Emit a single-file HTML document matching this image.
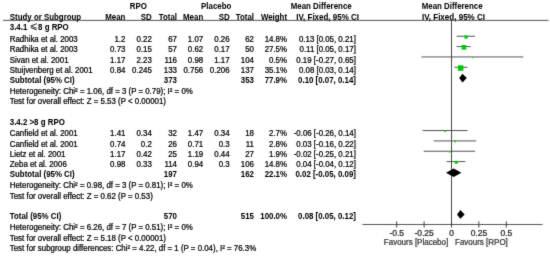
<!DOCTYPE html>
<html><head><meta charset="utf-8"><title>Forest plot</title>
<style>
html,body{margin:0;padding:0;background:#fff;}
svg{display:block}
text{font-family:"Liberation Sans",sans-serif;font-size:7.9px;stroke:#000;stroke-width:0.24px;}
text.b{font-weight:bold;stroke-width:0.04px;}
</style></head><body>
<svg width="550" height="256" viewBox="0 0 550 256">
<defs><filter id="soft" x="0" y="0" width="550" height="256" filterUnits="userSpaceOnUse"><feConvolveMatrix order="3" kernelMatrix="0.015 0.075 0.015 0.075 0.64 0.075 0.015 0.075 0.015" edgeMode="duplicate" preserveAlpha="false"/></filter></defs>
<rect width="550" height="256" fill="#fff"/>
<g filter="url(#soft)">
<line x1="451.5" y1="20.4" x2="451.5" y2="224.5" stroke="#333" stroke-width="0.9"/>
<line x1="456.6" y1="36.25" x2="475.1" y2="36.25" stroke="#404040" stroke-width="0.9"/>
<rect x="464.5" y="35.4" width="3.2" height="3.2" fill="#00c800"/>
<line x1="456.6" y1="46.6" x2="470.7" y2="46.6" stroke="#404040" stroke-width="0.9"/>
<rect x="461.6" y="45.0" width="4.7" height="4.7" fill="#00c800"/>
<line x1="421.5" y1="56.949999999999996" x2="523.3" y2="56.949999999999996" stroke="#404040" stroke-width="0.9"/>
<rect x="472.1" y="57.0" width="1.2" height="1.2" fill="#00c800"/>
<line x1="454.4" y1="67.30000000000001" x2="467.4" y2="67.30000000000001" stroke="#404040" stroke-width="0.9"/>
<rect x="457.9" y="65.3" width="5.5" height="5.5" fill="#00c800"/>
<polygon points="459.2,78.1 462.5,73.8 466.8,78.1 462.5,82.39999999999999" fill="#000"/>
<line x1="422.6" y1="130.55" x2="467.4" y2="130.55" stroke="#404040" stroke-width="0.9"/>
<rect x="444.5" y="130.4" width="1.6" height="1.6" fill="#00c800"/>
<line x1="433.6" y1="140.9" x2="476.2" y2="140.9" stroke="#404040" stroke-width="0.9"/>
<rect x="454.4" y="140.8" width="1.6" height="1.6" fill="#00c800"/>
<line x1="423.7" y1="151.25" x2="475.1" y2="151.25" stroke="#404040" stroke-width="0.9"/>
<rect x="449.0" y="151.2" width="1.4" height="1.4" fill="#00c800"/>
<line x1="446.7" y1="161.6" x2="465.3" y2="161.6" stroke="#404040" stroke-width="0.9"/>
<rect x="454.8" y="160.8" width="2.9" height="2.9" fill="#00c800"/>
<polygon points="446.0,172.8 453.7,168.5 461.4,172.8 453.7,177.10000000000002" fill="#000"/>
<polygon points="457.0,214.4 460.3,210.1 464.7,214.4 460.3,218.70000000000002" fill="#000"/>
<line x1="362.5" y1="224.5" x2="542.5" y2="224.5" stroke="#3a3a3a" stroke-width="0.85"/>
<line x1="396.7" y1="221.3" x2="396.7" y2="227.6" stroke="#333" stroke-width="0.9"/>
<line x1="424.1" y1="221.3" x2="424.1" y2="227.6" stroke="#333" stroke-width="0.9"/>
<line x1="451.5" y1="221.3" x2="451.5" y2="227.6" stroke="#333" stroke-width="0.9"/>
<line x1="478.9" y1="221.3" x2="478.9" y2="227.6" stroke="#333" stroke-width="0.9"/>
<line x1="506.3" y1="221.3" x2="506.3" y2="227.6" stroke="#333" stroke-width="0.9"/>
<text transform="translate(138.4 9.1) scale(1 1.03)" text-anchor="middle" class="b">RPO</text>
<text transform="translate(216.2 9.1) scale(1 1.03)" text-anchor="middle" class="b">Placebo</text>
<text transform="translate(321.2 9.1) scale(1 1.03)" text-anchor="middle" class="b">Mean Difference</text>
<text transform="translate(421.7 9.1) scale(1 1.03)" class="b">Mean Difference</text>
<text transform="translate(9.8 19.7) scale(1 1.03)" class="b">Study or Subgroup</text>
<text transform="translate(125.4 19.7) scale(1 1.03)" text-anchor="end" class="b">Mean</text>
<text transform="translate(151.8 19.7) scale(1 1.03)" text-anchor="end" class="b">SD</text>
<text transform="translate(177 19.7) scale(1 1.03)" text-anchor="end" class="b">Total</text>
<text transform="translate(203.2 19.7) scale(1 1.03)" text-anchor="end" class="b">Mean</text>
<text transform="translate(229.6 19.7) scale(1 1.03)" text-anchor="end" class="b">SD</text>
<text transform="translate(254 19.7) scale(1 1.03)" text-anchor="end" class="b">Total</text>
<text transform="translate(287 19.7) scale(1 1.03)" text-anchor="end" class="b">Weight</text>
<text transform="translate(359 19.7) scale(1 1.03)" text-anchor="end" class="b" style="font-size:8.0px;">IV, Fixed, 95% CI</text>
<text transform="translate(421.9 19.7) scale(1 1.03)" class="b" style="font-size:8.05px;">IV, Fixed, 95% CI</text>
<line x1="3" y1="20.4" x2="548.5" y2="20.4" stroke="#222" stroke-width="0.75"/>
<text transform="translate(9.8 29.5) scale(1 1.03)" class="b">3.4.1 <tspan font-family="DejaVu Sans, sans-serif" font-weight="normal" font-size="9.4" dx="0.3" dy="-0.5">⩽</tspan><tspan dy="0.5" dx="0.4">8 g RPO</tspan></text>
<text transform="translate(9.8 42.1) scale(1 1.03)">Radhika et al. 2003</text>
<text transform="translate(125.4 42.1) scale(1 1.03)" text-anchor="end">1.2</text>
<text transform="translate(151.8 42.1) scale(1 1.03)" text-anchor="end">0.22</text>
<text transform="translate(177 42.1) scale(1 1.03)" text-anchor="end">67</text>
<text transform="translate(203.2 42.1) scale(1 1.03)" text-anchor="end">1.07</text>
<text transform="translate(229.6 42.1) scale(1 1.03)" text-anchor="end">0.26</text>
<text transform="translate(254 42.1) scale(1 1.03)" text-anchor="end">62</text>
<text transform="translate(287 42.1) scale(1 1.03)" text-anchor="end">14.8%</text>
<text transform="translate(355.9 42.1) scale(1 1.03)" text-anchor="end">0.13 [0.05, 0.21]</text>
<text transform="translate(9.8 52.45) scale(1 1.03)">Radhika et al. 2003</text>
<text transform="translate(125.4 52.45) scale(1 1.03)" text-anchor="end">0.73</text>
<text transform="translate(151.8 52.45) scale(1 1.03)" text-anchor="end">0.15</text>
<text transform="translate(177 52.45) scale(1 1.03)" text-anchor="end">57</text>
<text transform="translate(203.2 52.45) scale(1 1.03)" text-anchor="end">0.62</text>
<text transform="translate(229.6 52.45) scale(1 1.03)" text-anchor="end">0.17</text>
<text transform="translate(254 52.45) scale(1 1.03)" text-anchor="end">50</text>
<text transform="translate(287 52.45) scale(1 1.03)" text-anchor="end">27.5%</text>
<text transform="translate(355.9 52.45) scale(1 1.03)" text-anchor="end">0.11 [0.05, 0.17]</text>
<text transform="translate(9.8 62.8) scale(1 1.03)">Sivan et al. 2001</text>
<text transform="translate(125.4 62.8) scale(1 1.03)" text-anchor="end">1.17</text>
<text transform="translate(151.8 62.8) scale(1 1.03)" text-anchor="end">2.23</text>
<text transform="translate(177 62.8) scale(1 1.03)" text-anchor="end">116</text>
<text transform="translate(203.2 62.8) scale(1 1.03)" text-anchor="end">0.98</text>
<text transform="translate(229.6 62.8) scale(1 1.03)" text-anchor="end">1.17</text>
<text transform="translate(254 62.8) scale(1 1.03)" text-anchor="end">104</text>
<text transform="translate(287 62.8) scale(1 1.03)" text-anchor="end">0.5%</text>
<text transform="translate(355.9 62.8) scale(1 1.03)" text-anchor="end">0.19 [-0.27, 0.65]</text>
<text transform="translate(9.8 73.15) scale(1 1.03)">Stuijvenberg et al. 2001</text>
<text transform="translate(125.4 73.15) scale(1 1.03)" text-anchor="end">0.84</text>
<text transform="translate(151.8 73.15) scale(1 1.03)" text-anchor="end">0.245</text>
<text transform="translate(177 73.15) scale(1 1.03)" text-anchor="end">133</text>
<text transform="translate(203.2 73.15) scale(1 1.03)" text-anchor="end">0.756</text>
<text transform="translate(229.6 73.15) scale(1 1.03)" text-anchor="end">0.206</text>
<text transform="translate(254 73.15) scale(1 1.03)" text-anchor="end">137</text>
<text transform="translate(287 73.15) scale(1 1.03)" text-anchor="end">35.1%</text>
<text transform="translate(355.9 73.15) scale(1 1.03)" text-anchor="end">0.08 [0.03, 0.14]</text>
<text transform="translate(9.8 82.5) scale(1 1.03)" class="b">Subtotal (95% CI)</text>
<text transform="translate(177 82.5) scale(1 1.03)" text-anchor="end" class="b">373</text>
<text transform="translate(254 82.5) scale(1 1.03)" text-anchor="end" class="b">353</text>
<text transform="translate(287 82.5) scale(1 1.03)" text-anchor="end" class="b">77.9%</text>
<text transform="translate(355.9 82.5) scale(1 1.03)" text-anchor="end" class="b">0.10 [0.07, 0.14]</text>
<text transform="translate(9.8 93.85) scale(1 1.03)">Heterogeneity: Chi² = 1.06, df = 3 (P = 0.79); I² = 0%</text>
<text transform="translate(9.8 104.19999999999999) scale(1 1.03)">Test for overall effect: Z = 5.53 (P &lt; 0.00001)</text>
<text transform="translate(9.8 124.65) scale(1 1.03)" class="b">3.4.2 &gt;8 g RPO</text>
<text transform="translate(9.8 136.4) scale(1 1.03)">Canfield et al. 2001</text>
<text transform="translate(125.4 136.4) scale(1 1.03)" text-anchor="end">1.41</text>
<text transform="translate(151.8 136.4) scale(1 1.03)" text-anchor="end">0.34</text>
<text transform="translate(177 136.4) scale(1 1.03)" text-anchor="end">32</text>
<text transform="translate(203.2 136.4) scale(1 1.03)" text-anchor="end">1.47</text>
<text transform="translate(229.6 136.4) scale(1 1.03)" text-anchor="end">0.34</text>
<text transform="translate(254 136.4) scale(1 1.03)" text-anchor="end">18</text>
<text transform="translate(287 136.4) scale(1 1.03)" text-anchor="end">2.7%</text>
<text transform="translate(355.9 136.4) scale(1 1.03)" text-anchor="end">-0.06 [-0.26, 0.14]</text>
<text transform="translate(9.8 146.75) scale(1 1.03)">Canfield et al. 2001</text>
<text transform="translate(125.4 146.75) scale(1 1.03)" text-anchor="end">0.74</text>
<text transform="translate(151.8 146.75) scale(1 1.03)" text-anchor="end">0.2</text>
<text transform="translate(177 146.75) scale(1 1.03)" text-anchor="end">26</text>
<text transform="translate(203.2 146.75) scale(1 1.03)" text-anchor="end">0.71</text>
<text transform="translate(229.6 146.75) scale(1 1.03)" text-anchor="end">0.3</text>
<text transform="translate(254 146.75) scale(1 1.03)" text-anchor="end">11</text>
<text transform="translate(287 146.75) scale(1 1.03)" text-anchor="end">2.8%</text>
<text transform="translate(355.9 146.75) scale(1 1.03)" text-anchor="end">0.03 [-0.16, 0.22]</text>
<text transform="translate(9.8 157.1) scale(1 1.03)">Lietz et al. 2001</text>
<text transform="translate(125.4 157.1) scale(1 1.03)" text-anchor="end">1.17</text>
<text transform="translate(151.8 157.1) scale(1 1.03)" text-anchor="end">0.42</text>
<text transform="translate(177 157.1) scale(1 1.03)" text-anchor="end">25</text>
<text transform="translate(203.2 157.1) scale(1 1.03)" text-anchor="end">1.19</text>
<text transform="translate(229.6 157.1) scale(1 1.03)" text-anchor="end">0.44</text>
<text transform="translate(254 157.1) scale(1 1.03)" text-anchor="end">27</text>
<text transform="translate(287 157.1) scale(1 1.03)" text-anchor="end">1.9%</text>
<text transform="translate(355.9 157.1) scale(1 1.03)" text-anchor="end">-0.02 [-0.25, 0.21]</text>
<text transform="translate(9.8 167.45) scale(1 1.03)">Zeba et al. 2006</text>
<text transform="translate(125.4 167.45) scale(1 1.03)" text-anchor="end">0.98</text>
<text transform="translate(151.8 167.45) scale(1 1.03)" text-anchor="end">0.33</text>
<text transform="translate(177 167.45) scale(1 1.03)" text-anchor="end">114</text>
<text transform="translate(203.2 167.45) scale(1 1.03)" text-anchor="end">0.94</text>
<text transform="translate(229.6 167.45) scale(1 1.03)" text-anchor="end">0.3</text>
<text transform="translate(254 167.45) scale(1 1.03)" text-anchor="end">106</text>
<text transform="translate(287 167.45) scale(1 1.03)" text-anchor="end">14.8%</text>
<text transform="translate(355.9 167.45) scale(1 1.03)" text-anchor="end">0.04 [-0.04, 0.12]</text>
<text transform="translate(9.8 177.20000000000002) scale(1 1.03)" class="b">Subtotal (95% CI)</text>
<text transform="translate(177 177.20000000000002) scale(1 1.03)" text-anchor="end" class="b">197</text>
<text transform="translate(254 177.20000000000002) scale(1 1.03)" text-anchor="end" class="b">162</text>
<text transform="translate(287 177.20000000000002) scale(1 1.03)" text-anchor="end" class="b">22.1%</text>
<text transform="translate(355.9 177.20000000000002) scale(1 1.03)" text-anchor="end" class="b">0.02 [-0.05, 0.09]</text>
<text transform="translate(9.8 188.15) scale(1 1.03)">Heterogeneity: Chi² = 0.98, df = 3 (P = 0.81); I² = 0%</text>
<text transform="translate(9.8 198.5) scale(1 1.03)">Test for overall effect: Z = 0.62 (P = 0.53)</text>
<text transform="translate(9.8 218.8) scale(1 1.03)" class="b">Total (95% CI)</text>
<text transform="translate(177 218.8) scale(1 1.03)" text-anchor="end" class="b">570</text>
<text transform="translate(254 218.8) scale(1 1.03)" text-anchor="end" class="b">515</text>
<text transform="translate(287 218.8) scale(1 1.03)" text-anchor="end" class="b">100.0%</text>
<text transform="translate(355.9 218.8) scale(1 1.03)" text-anchor="end" class="b">0.08 [0.05, 0.12]</text>
<text transform="translate(9.8 230.15) scale(1 1.03)">Heterogeneity: Chi² = 6.26, df = 7 (P = 0.51); I² = 0%</text>
<text transform="translate(9.8 240.5) scale(1 1.03)">Test for overall effect: Z = 5.18 (P &lt; 0.00001)</text>
<text transform="translate(9.8 250.85000000000002) scale(1 1.03)">Test for subgroup differences: Chi² = 4.22, df = 1 (P = 0.04), I² = 76.3%</text>
<text transform="translate(396.7 235.8) scale(1 1.03)" text-anchor="middle" style="fill:#222;stroke:#222;font-size:8.5px;">-0.5</text>
<text transform="translate(424.1 235.8) scale(1 1.03)" text-anchor="middle" style="fill:#222;stroke:#222;font-size:8.5px;">-0.25</text>
<text transform="translate(451.5 235.8) scale(1 1.03)" text-anchor="middle" style="fill:#222;stroke:#222;font-size:8.5px;">0</text>
<text transform="translate(478.9 235.8) scale(1 1.03)" text-anchor="middle" style="fill:#222;stroke:#222;font-size:8.5px;">0.25</text>
<text transform="translate(506.3 235.8) scale(1 1.03)" text-anchor="middle" style="fill:#222;stroke:#222;font-size:8.5px;">0.5</text>
<text transform="translate(448.2 245.0) scale(1 1.03)" text-anchor="end" style="fill:#333;stroke:#333;font-size:8.0px;">Favours [Placebo]</text>
<text transform="translate(455.0 245.0) scale(1 1.03)" style="fill:#333;stroke:#333;font-size:8.0px;">Favours [RPO]</text>
</g>
</svg>
</body></html>
